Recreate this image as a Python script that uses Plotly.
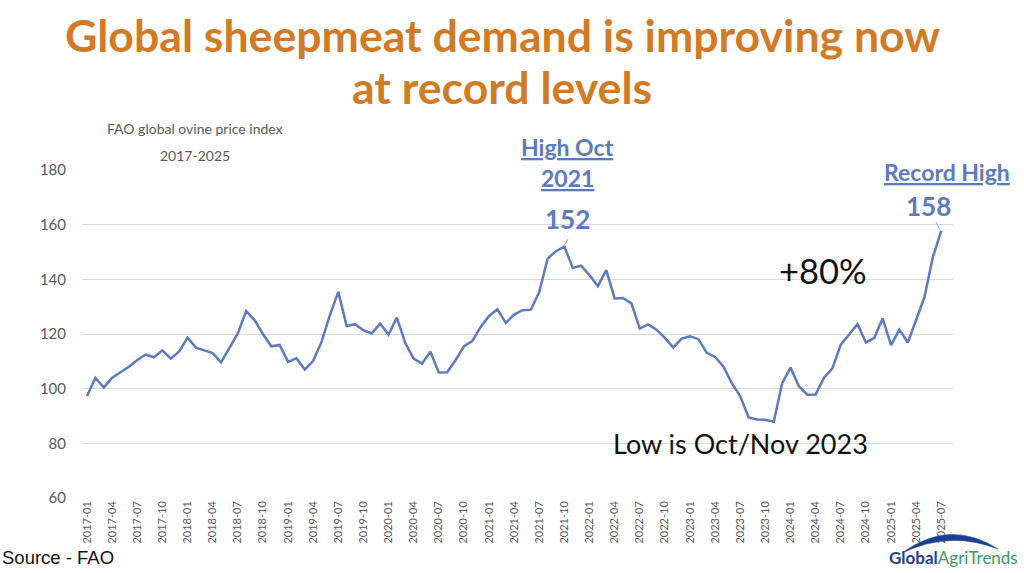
import plotly.graph_objects as go

# ---- data ----
start_year, start_month, n_months = 2017, 1, 103
months = []
y, m = start_year, start_month
for _ in range(n_months):
    months.append(f"{y}-{m:02d}")
    m += 1
    if m > 12:
        m, y = 1, y + 1

ovine_index = [
    97.3, 104.0, 100.4, 104.0, 106.0, 108.0, 110.5, 112.5, 111.5, 114.0, 111.0, 113.6,  # 2017
    118.7, 115.0, 114.0, 113.0, 109.6, 115.0, 120.2, 128.4, 125.1, 120.0, 115.5, 116.0,  # 2018
    109.8, 111.1, 107.0, 110.2, 117.1, 126.9, 135.4, 122.9, 123.6, 121.4, 120.2, 123.8,  # 2019
    119.8, 126.0, 116.7, 111.0, 109.2, 113.5, 105.9, 106.0, 110.4, 115.5, 117.4, 122.6,  # 2020
    126.6, 129.0, 124.1, 127.1, 128.7, 128.9, 135.4, 147.6, 150.3, 152.0, 144.2, 145.0,  # 2021
    141.5, 137.5, 143.4, 133.0, 133.2, 131.2, 122.0, 123.5, 121.6, 118.6, 115.0, 118.3,  # 2022
    119.2, 118.1, 113.1, 111.6, 108.0, 101.9, 97.2, 89.5, 88.7, 88.6, 87.9, 102.0,      # 2023
    107.7, 100.9, 97.8, 97.9, 104.0, 107.4, 116.1, 119.8, 123.6, 116.9, 118.6, 125.7,   # 2024
    115.9, 121.6, 116.9, 125.1, 133.6, 148.2, 157.8,                                     # 2025
]
x_tick_labels = months[::3]
y_tick_values = [60, 80, 100, 120, 140, 160, 180]

# ---- layout helpers (pixel -> paper) ----
W, H = 1024, 573
L, R, T, B = 82, 953, 170, 498


def px(x):
    return (x - L) / (R - L)


def py(y):
    return (B - y) / (B - T)


BLUE = "#5B7BBE"
ORANGE = "#D27B26"
GRAY = "#595959"

fig = go.Figure()
fig.add_trace(go.Scatter(
    x=months, y=ovine_index, mode="lines",
    line=dict(color=BLUE, width=2.5), hoverinfo="x+y", showlegend=False,
))

fig.update_layout(
    width=W, height=H,
    margin=dict(l=L, r=W - R, t=T, b=H - B),
    paper_bgcolor="white", plot_bgcolor="white",
    font=dict(family="Lato, Calibri, sans-serif", color=GRAY),
    xaxis=dict(
        type="category", range=[-0.6, 103.4],
        tickmode="array", tickvals=x_tick_labels, ticktext=x_tick_labels,
        tickangle=-90, tickfont=dict(size=11, color=GRAY),
        showgrid=False, showline=False, zeroline=False, ticks="",
    ),
    yaxis=dict(
        range=[60, 180], tickvals=y_tick_values,
        tickfont=dict(size=15, color=GRAY),
        showgrid=True, gridcolor="#D9D9D9", gridwidth=1,
        zeroline=False, showline=False, ticks="", ticklabelstandoff=15,
    ),
)

ann = []
def text(x, y, s, size, color, bold=False, family="Lato, Calibri, sans-serif", xanchor="center"):
    if bold:
        s = f"<b>{s}</b>"
    ann.append(dict(x=px(x), y=py(y), xref="paper", yref="paper", text=s,
                    showarrow=False, xanchor=xanchor, yanchor="middle",
                    font=dict(size=size, color=color, family=family)))

# title
text(502, 34, "Global sheepmeat demand is improving now", 44.6, ORANGE, bold=True)
text(502, 86, "at record levels", 44.6, ORANGE, bold=True)
# subtitle
text(195, 128, "FAO global ovine price index", 14, GRAY)
text(195, 155, "2017-2025", 14, GRAY)
# high annotation
text(567, 147, "<u>High Oct</u>", 23, BLUE, bold=True)
text(567, 178, "<u>2021</u>", 23, BLUE, bold=True)
text(567, 219, "152", 26, BLUE, bold=True)
# record high
text(947, 172, "<u>Record High</u>", 23, BLUE, bold=True)
text(928, 206, "158", 26, BLUE, bold=True)
# other notes
text(823, 270, "+80%", 34.5, "#111111")
text(740, 443, "Low is Oct/Nov 2023", 27, "#111111")
text(0, 557, "Source - FAO", 18.5, "#111111", family="Liberation Sans, Arial, sans-serif", xanchor="left")
# logo text
ann.append(dict(x=px(1020), y=py(557), xref="paper", yref="paper", showarrow=False,
                xanchor="right", yanchor="middle",
                text="<b><span style='color:#1E3F8F'>Global</span></b><span style='color:#3C9A5C'>AgriTrends</span>",
                font=dict(size=17, family="Lato, Calibri, sans-serif")))
fig.update_layout(annotations=ann)

# leader lines and logo swoosh
shapes = [
    dict(type="line", xref="paper", yref="paper", x0=px(568), y0=py(239), x1=px(564), y1=py(246),
         line=dict(color="#A6A6A6", width=1)),
    dict(type="line", xref="paper", yref="paper", x0=px(936), y0=py(222), x1=px(940), y1=py(230),
         line=dict(color="#A6A6A6", width=1)),
    dict(type="path", xref="paper", yref="paper",
         path=(f"M {px(902)},{py(553)} Q {px(950)},{py(518)} {px(998)},{py(549)} "
               f"Q {px(950)},{py(530)} {px(902)},{py(553)} Z"),
         fillcolor="#1E3F8F", line=dict(color="#1E3F8F", width=0.5)),
]
fig.update_layout(shapes=shapes)

fig.write_html("out.html")
